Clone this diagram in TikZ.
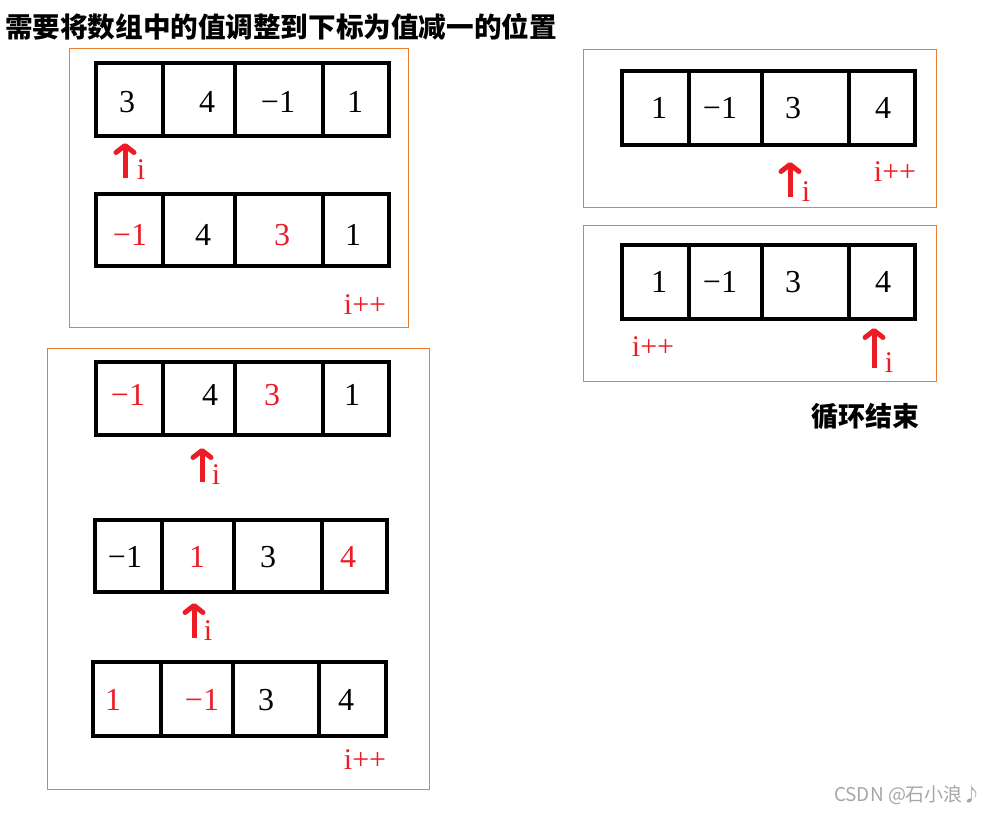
\documentclass[tikz,border=0pt]{standalone}
\usepackage{fontspec}
\setmainfont{Liberation Serif}
\newfontfamily\cjk{Noto Sans CJK SC}
\usetikzlibrary{arrows.meta}
\definecolor{frameorange}{HTML}{ED7D31}
\definecolor{markred}{HTML}{ED1C24}
\definecolor{wmgray}{HTML}{A6A6A6}

\begin{document}
\begin{tikzpicture}[x=0.5pt, y=-0.5pt,
    boxframe/.style={draw=frameorange, line width=0.5pt},
    arrline/.style={draw=black, line width=2.4pt},
    cellval/.style={font=\fontsize{16}{18}\selectfont, inner sep=0pt},
    ptr/.style={draw=markred, line width=2.5pt, -{Straight Barb[length=3.5pt,width=9pt,round]}},
    lbl/.style={text=markred, font=\fontsize{15}{17}\selectfont, inner sep=0pt},
    heading/.style={font=\cjk\bfseries\fontsize{13.8}{16}\selectfont, inner sep=0pt}]
    \useasboundingbox (0,0) rectangle (996,813);
    % title
    \node[heading] (title) at (281,27) {需要将数组中的值调整到下标为值减一的位置};
    % orange frames
    \draw[boxframe] (69,49) rectangle (408,327);
    \draw[boxframe] (47,348) rectangle (429,789);
    \draw[boxframe] (583,50) rectangle (936,207);
    \draw[boxframe] (583,225) rectangle (936,381);
    % arrays
    \draw[arrline] (96,63) rectangle (389,136);
    \foreach \x in {163,235,323} \draw[arrline] (\x,63) -- (\x,136);
    \draw[arrline] (96,194) rectangle (389,266);
    \foreach \x in {163,235,323} \draw[arrline] (\x,194) -- (\x,266);
    \draw[arrline] (96,362) rectangle (389,435);
    \foreach \x in {163,235,323} \draw[arrline] (\x,362) -- (\x,435);
    \draw[arrline] (95,520) rectangle (387,592);
    \foreach \x in {162,234,322} \draw[arrline] (\x,520) -- (\x,592);
    \draw[arrline] (93,662) rectangle (386,736);
    \foreach \x in {161,233,319} \draw[arrline] (\x,662) -- (\x,736);
    \draw[arrline] (622,71) rectangle (915,145);
    \foreach \x in {689,762,849} \draw[arrline] (\x,71) -- (\x,145);
    \draw[arrline] (622,245) rectangle (915,319);
    \foreach \x in {689,762,849} \draw[arrline] (\x,245) -- (\x,319);
    % values
    \foreach \v/\x/\c [count=\k] in {3/127/black, 4/207/black, −1/278/black, 1/355/black}
        \node[cellval, text=\c] (rowa\k) at (\x,102) {\v};
    \foreach \v/\x/\c [count=\k] in {−1/130/markred, 4/203/black, 3/282/markred, 1/353/black}
        \node[cellval, text=\c] (rowb\k) at (\x,235) {\v};
    \foreach \v/\x/\c [count=\k] in {−1/128/markred, 4/210/black, 3/272/markred, 1/352/black}
        \node[cellval, text=\c] (rowc\k) at (\x,395) {\v};
    \foreach \v/\x/\c [count=\k] in {−1/125/black, 1/197/markred, 3/268/black, 4/348/markred}
        \node[cellval, text=\c] (rowd\k) at (\x,557) {\v};
    \foreach \v/\x/\c [count=\k] in {1/113/markred, −1/202/markred, 3/266/black, 4/346/black}
        \node[cellval, text=\c] (rowe\k) at (\x,700) {\v};
    \foreach \v/\x [count=\k] in {1/659, −1/720, 3/793, 4/883}
        \node[cellval] (rowf\k) at (\x,108) {\v};
    \foreach \v/\x [count=\k] in {1/659, −1/720, 3/793, 4/883}
        \node[cellval] (rowg\k) at (\x,282) {\v};
    % pointers
    \coordinate (pa) at (125,178); \coordinate (pa') at (125,143);
    \coordinate (pc) at (202,482); \coordinate (pc') at (202,448);
    \coordinate (pd) at (194,638); \coordinate (pd') at (194,603);
    \coordinate (pf) at (790,197); \coordinate (pf') at (790,162);
    \coordinate (pg) at (874,368); \coordinate (pg') at (874,328);
    \foreach \p in {pa,pc,pd,pf,pg} \draw[ptr] (\p) -- (\p');
    \node[lbl] (ia) at (141,170) {i};
    \node[lbl] (ic) at (216,475) {i};
    \node[lbl] (id) at (208,631) {i};
    \node[lbl] (iff) at (806,192) {i};
    \node[lbl] (ig) at (889,363) {i};
    \node[lbl] (incb) at (365,305) {i++};
    \node[lbl] (ince) at (365,760) {i++};
    \node[lbl] (incf) at (895,172) {i++};
    \node[lbl] (incg) at (653,347) {i++};
    % end of loop, watermark
    \node[heading, font=\cjk\bfseries\fontsize{13.5}{16}\selectfont] (done) at (865,416) {循环结束};
    \node[text=wmgray, font=\cjk\fontsize{9.5}{11}\selectfont, inner sep=0pt] (wm) at (908,795) {CSDN @石小浪♪};
\end{tikzpicture}
\end{document}
